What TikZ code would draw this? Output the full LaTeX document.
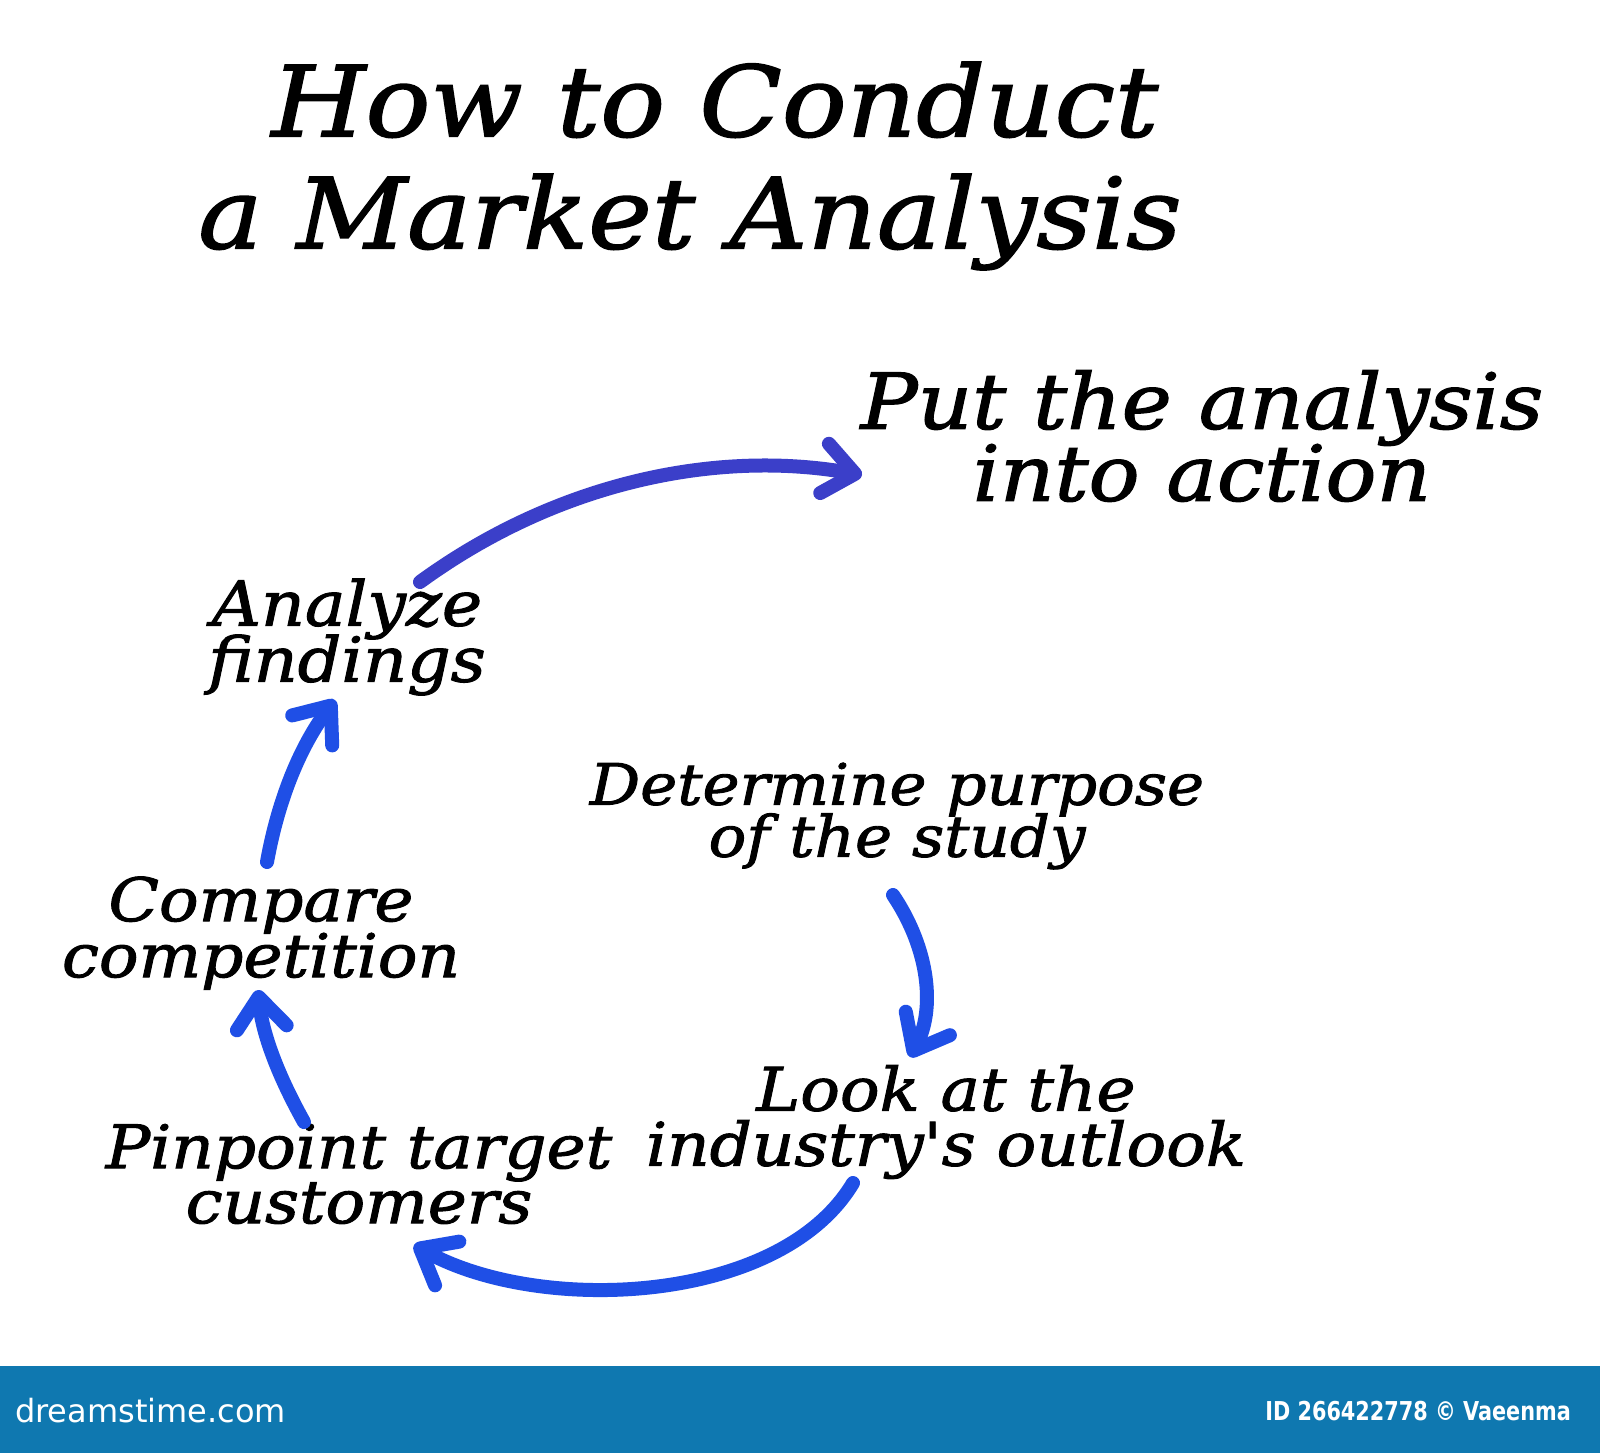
\documentclass[tikz,border=0pt]{standalone}
\usepackage{fontspec}
\usetikzlibrary{arrows.meta}
\newfontfamily\hand[FakeStretch=1.1,FakeBold=1.6]{DejaVu Serif}
\newfontfamily\barfont{DejaVu Sans}
\newfontfamily\barcond[FakeStretch=0.8]{DejaVu Sans}
\newcommand\hw[2]{\hand\itshape\fontsize{#1}{#2}\selectfont\lineskiplimit=-1000pt\relax}
\definecolor{arrA}{HTML}{3B3FC9}
\definecolor{arrB}{HTML}{1F4FE6}
\definecolor{barbg}{HTML}{0F78B0}
\tikzset{
  lbl/.style={align=center, inner sep=0pt, text=black},
  arr/.style={line width=14pt, line cap=round, -{Straight Barb[length=31pt,width=50pt,round]}}
}
\begin{document}
\begin{tikzpicture}[x=1pt,y=-1pt]
\fill[white] (0,0) rectangle (1600,1453);
\useasboundingbox (0,0) rectangle (1600,1453);

\node[lbl, font=\hw{98}{112}] (title) at (690,166) {\hspace*{50pt}How to Conduct\\a Market Analysis};
\node[lbl, font=\hw{77}{72}] (put) at (1202,436) {Put the analysis\\into action};
\node[lbl, font=\hw{62}{56}] (analyze) at (347,637) {Analyze\\findings};
\node[lbl, font=\hw{57}{52}] (determine) at (897,816) {Determine purpose\\of the study};
\node[lbl, font=\hw{60}{56}] (compare) at (261,933) {Compare\\competition};
\node[lbl, font=\hw{60}{55}] (look) at (946,1122) {Look at the\\industry's outlook};
\node[lbl, font=\hw{60}{55}] (pinpoint) at (359,1174) {Pinpoint target\\customers};

\coordinate (a1s) at (420,582);
\coordinate (a1e) at (862,475);
\coordinate (a2s) at (267,862);
\coordinate (a2e) at (335,700);
\coordinate (a3s) at (893,895);
\coordinate (a3e) at (910,1057);
\coordinate (a4s) at (304,1122);
\coordinate (a4e) at (258,990);
\coordinate (a5s) at (853,1183);
\coordinate (a5e) at (414,1245);

\draw[arr, arrA] (a1s) .. controls (560,480) and (720,450) .. (a1e);
\draw[arr, arrB] (a2s) .. controls (280,790) and (305,740) .. (a2e);
\draw[arr, arrB] (a3s) .. controls (930,950) and (935,1010) .. (a3e);
\draw[arr, arrB] (a4s) .. controls (275,1070) and (262,1030) .. (a4e);
\draw[arr, arrB] (a5s) .. controls (780,1305) and (540,1315) .. (a5e);

\fill[barbg] (0,1366) rectangle (1600,1453);
\node[anchor=west, text=white, font=\barfont\fontsize{32}{32}\selectfont, inner sep=0pt] (ds) at (15,1411) {dreamstime.com};
\node[anchor=east, text=white, font=\barcond\bfseries\fontsize{26}{26}\selectfont, inner sep=0pt] (id) at (1571,1411) {ID 266422778 © Vaeenma};
\end{tikzpicture}
\end{document}
